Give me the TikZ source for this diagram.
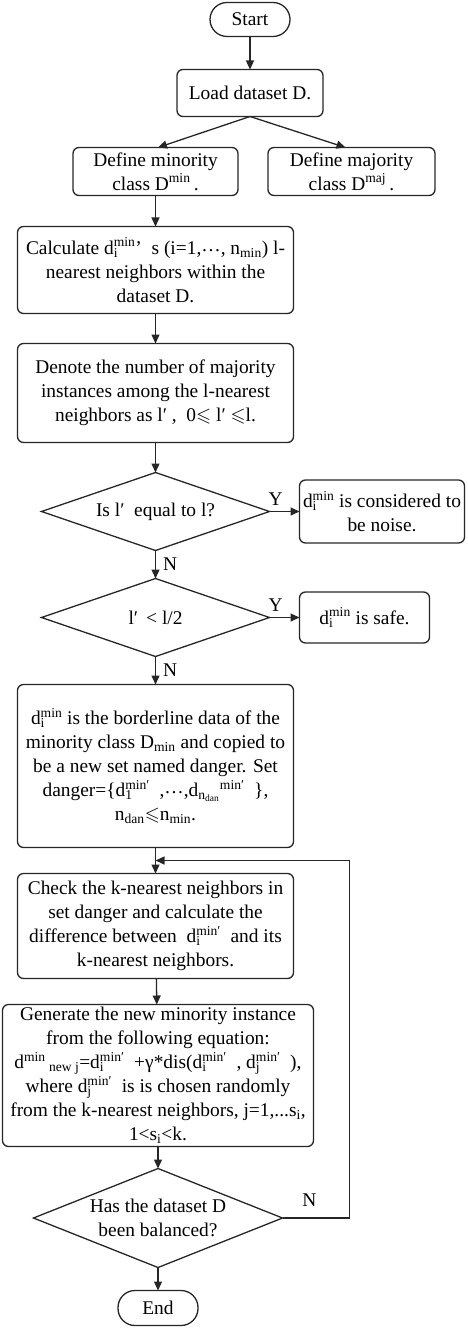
\documentclass[tikz,border=0pt]{standalone}
\usepackage{amssymb}
\usepackage{fontspec}
\setmainfont{Liberation Serif}
\usepackage{tikz}
\usetikzlibrary{positioning, arrows.meta, shapes.geometric}
\definecolor{lineDark}{HTML}{262626}
\newcommand{\flowFont}{\fontsize{19.4}{24}\selectfont}
\newcommand{\subSup}[2]{\rlap{\textsubscript{#1}}\textsuperscript{#2}}
\newcommand{\midDots}{\raisebox{0.3ex}{…}}

\begin{document}
\begin{tikzpicture}[
        every node/.style={font=\flowFont},
        termBox/.style={rectangle, rounded corners=17pt, draw=lineDark, line width=1.3pt,
                        minimum width=80pt, minimum height=34pt, inner sep=2pt, outer sep=0pt},
        procBox/.style={rectangle, rounded corners=6pt, draw=lineDark, line width=1.3pt,
                        minimum width=276pt, align=center, inner sep=2pt, outer sep=0pt},
        decDia/.style={diamond, draw=lineDark, line width=1.3pt, aspect=2.9,
                       inner sep=0pt, outer sep=0pt, align=center},
        flowArr/.style={draw=lineDark, line width=1.3pt, -{Triangle[length=9pt, width=8pt]}},
        yn/.style={inner sep=1pt},
      ]
        \useasboundingbox (0,0) rectangle (467pt,-1329pt);

        \node[termBox] (start) at (250pt,-19.5pt) {Start};
        \node[procBox, minimum width=146pt, minimum height=47pt, below=33pt of start] (load) {Load dataset D.};

        \node[procBox, minimum width=165pt, minimum height=48pt, below=31pt of load, xshift=-94.5pt] (defMin)
              {Define minority\\class D\textsuperscript{min}\,.};
        \node[procBox, minimum width=167pt, minimum height=48pt, right=30pt of defMin] (defMaj)
              {Define majority\\class D\textsuperscript{maj}\,.};

        \node[procBox, minimum height=87pt, below=31pt of defMin] (calc)
              {Calculate d\subSup{i}{min}’\ \ s (i=1,\midDots, n\textsubscript{min}) l-\\nearest neighbors within the\\dataset D.};
        \node[procBox, minimum height=99pt, below=30pt of calc] (denote)
              {Denote the number of majority\\instances among the l-nearest\\neighbors as l′\ , \ 0$\leqslant$ l′\ $\leqslant$l.};

        \node[decDia, minimum width=228pt, minimum height=78pt, below=30pt of denote] (isEq) {Is l′\ \ equal to l?};
        \node[procBox, minimum width=165pt, minimum height=63pt, inner xsep=1pt, right=30pt of isEq] (noise)
              {d\subSup{i}{min} is considered to\\be noise.};

        \node[decDia, minimum width=228pt, minimum height=78pt, below=28pt of isEq] (isHalf) {l′\ \,< l/2};
        \node[procBox, minimum width=130pt, minimum height=51pt, right=30pt of isHalf] (safe)
              {d\subSup{i}{min} is safe.};

        \node[procBox, minimum height=163pt, below=28pt of isHalf] (border)
              {d\subSup{i}{min} is the borderline data of the\\minority class D\textsubscript{min} and copied to\\be a new set named danger. Set\\danger=\{d\subSup{1}{min′}\ \ ,\midDots,d\textsubscript{n\textsubscript{dan}}\textsuperscript{min′}\ \ \},\\n\textsubscript{dan}$\leqslant$n\textsubscript{min}.};
        \node[procBox, minimum height=105pt, below=26pt of border] (check)
              {Check the k-nearest neighbors in\\set danger and calculate the\\difference between\ \ d\subSup{i}{min′}\ \ and its\\k-nearest neighbors.};
        \node[procBox, minimum width=311pt, minimum height=142pt, inner sep=1pt, below=26pt of check, xshift=2.5pt] (gen)
              {Generate the new minority instance\\from the following equation:\\d\textsuperscript{min}\,\textsubscript{new j}=d\subSup{i}{min′}\ \ +γ*dis(d\subSup{i}{min′}\ \ , d\subSup{j}{min′}\ \ ),\\where d\subSup{j}{min′}\ \ is is chosen randomly\\from the k-nearest neighbors, j=1,...s\textsubscript{i},\\1<s\textsubscript{i}<k.};

        \node[decDia, aspect=2.5, minimum width=249pt, minimum height=99pt, below=22pt of gen] (balanced)
              {Has the dataset D\\been balanced?};
        \node[termBox, minimum height=35pt, below=23pt of balanced] (end) {End};

        % main flow
        \draw[flowArr] (start) -- (load);
        \draw[flowArr] (load.south) -- ([xshift=2.5pt]defMin.north);
        \draw[flowArr] (load.south) -- ([xshift=-6pt]defMaj.north);
        \draw[flowArr] (defMin) -- (calc);
        \draw[flowArr] (calc) -- (denote);
        \draw[flowArr] (denote) -- (isEq);
        \draw[flowArr] (isEq) -- node[yn, pos=0.2, above=4pt] {Y} (noise);
        \draw[flowArr] (isEq) -- node[yn, right=6pt] {N} (isHalf);
        \draw[flowArr] (isHalf) -- node[yn, pos=0.2, above=4pt] {Y} (safe);
        \draw[flowArr] (isHalf) -- node[yn, right=6pt] {N} (border);
        \draw[flowArr] (border) -- (check);
        \draw[flowArr] (check) -- (gen);
        \draw[flowArr] (gen) -- (balanced);
        \draw[flowArr] (balanced) -- (end);

        % loop back
        \path (border.south) -- coordinate[midway] (loopIn) (check.north);
        \draw[flowArr] (balanced.east) -- node[yn, pos=0.4, above=10pt] {N} ++(67pt,0) |- (loopIn);
      \end{tikzpicture}
\end{document}
